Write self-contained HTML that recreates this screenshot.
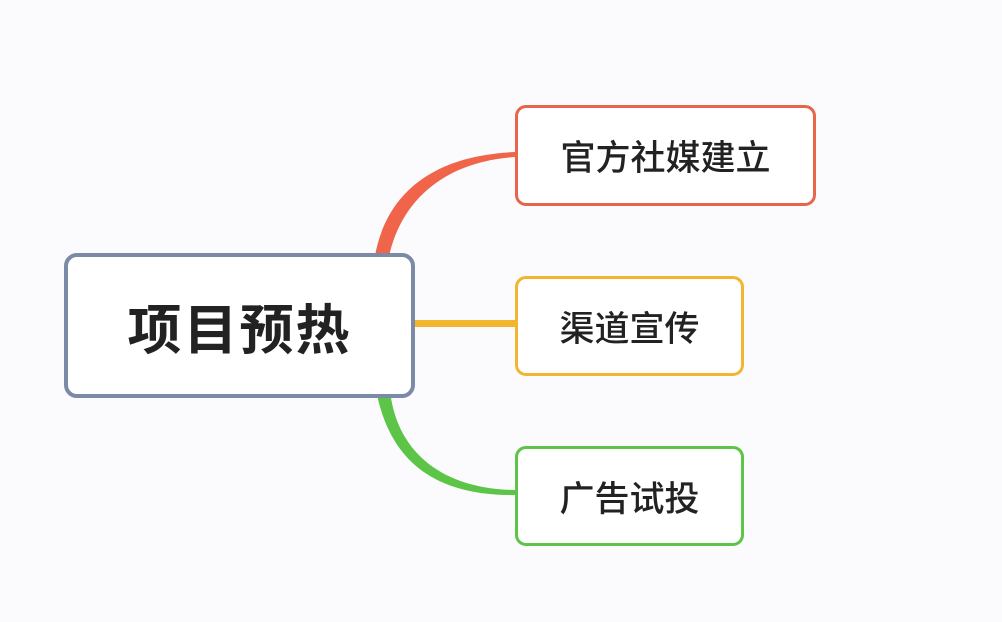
<!DOCTYPE html>
<html><head><meta charset="utf-8"><style>
body{margin:0;width:1002px;height:622px;background:#fbfbfd;overflow:hidden;position:relative;font-family:"Liberation Sans","Noto Sans CJK SC",sans-serif}
.b{position:absolute;box-sizing:border-box;background:#fff;display:flex;align-items:center;justify-content:center;color:#222;font-weight:500}
</style></head><body>
<svg width="1002" height="622" style="position:absolute;left:0;top:0">
<path d="M374,262 C382,205 420,156 515,152 L515,157 C440,162 398,205 388,262 Z" fill="#f0654a"/>
<rect x="410" y="320" width="108" height="7" fill="#f3b52d"/>
<path d="M390,390 C396,450 440,489 515,490 L515,495 C425,496 388,452 376,390 Z" fill="#5cc447"/>
</svg>
<div class="b" style="left:64px;top:253px;width:351px;height:145px;border:4px solid #7b8aa6;border-radius:13px;font-size:54px;font-weight:bold;letter-spacing:2px">项目预热</div>
<div class="b" style="left:515px;top:105px;width:301px;height:101px;border:3px solid #e7654a;border-radius:11px;font-size:35px">官方社媒建立</div>
<div class="b" style="left:515px;top:276px;width:229px;height:100px;border:3px solid #f3b52d;border-radius:11px;font-size:35px">渠道宣传</div>
<div class="b" style="left:515px;top:446px;width:229px;height:100px;border:3px solid #5cc447;border-radius:11px;font-size:35px">广告试投</div>
</body></html>
